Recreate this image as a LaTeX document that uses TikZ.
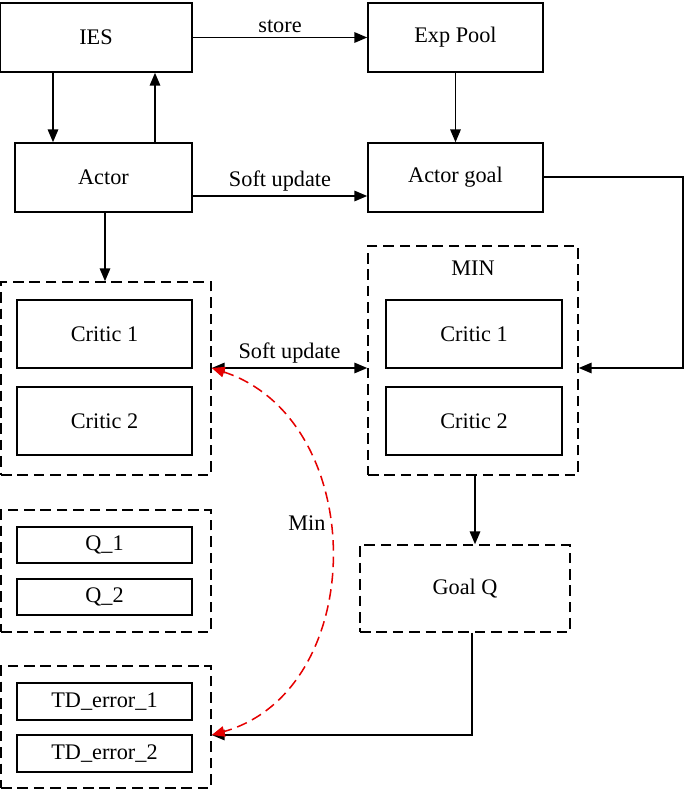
\documentclass[tikz,border=0pt]{standalone}
\usepackage{fontspec}
\setmainfont{Liberation Serif}
\usetikzlibrary{arrows.meta}
\begin{document}
\begin{tikzpicture}[x=0.03cm,y=-0.03cm,
  lab/.style={font=\fontsize{19}{22}\selectfont},
  box/.style={draw,line width=1.3pt,lab,inner sep=0pt},
  dbox/.style={draw,line width=1.3pt,dash pattern=on 9pt off 5pt,inner sep=0pt},
  arr/.style={line width=1.3pt,-{Triangle[length=11pt,width=9pt]}}]
\useasboundingbox (0,0) rectangle (685,790);
% solid boxes
\node[box,minimum width=5.76cm,minimum height=2.07cm] (ies) at (96,37.5) {IES};
\node[box,minimum width=5.25cm,minimum height=2.07cm] (exp) at (455.5,37.5) {Exp Pool};
\node[box,minimum width=5.31cm,minimum height=2.07cm] (actor) at (103.5,177.5) {Actor};
\node[box,minimum width=5.25cm,minimum height=2.07cm] (ag) at (455.5,177.5) {Actor goal};
% left critic group
\node[dbox,minimum width=6.3cm,minimum height=5.79cm] (lg) at (106,378.5) {};
\node[box,minimum width=5.25cm,minimum height=2.04cm] (lc1) at (104.5,334) {Critic 1};
\node[box,minimum width=5.25cm,minimum height=2.04cm] (lc2) at (104.5,421) {Critic 2};
% right MIN group
\node[dbox,minimum width=6.3cm,minimum height=6.87cm] (rg) at (473,360.5) {};
\node[lab] (minl) at (473,268) {MIN};
\node[box,minimum width=5.28cm,minimum height=2.04cm] (rc1) at (474,334) {Critic 1};
\node[box,minimum width=5.28cm,minimum height=2.04cm] (rc2) at (474,421) {Critic 2};
% goal Q
\node[dbox,lab,minimum width=6.3cm,minimum height=2.61cm] (gq) at (465,588.5) {Goal Q};
% Q group
\node[dbox,minimum width=6.3cm,minimum height=3.66cm] (qg) at (106,571) {};
\node[box,minimum width=5.25cm,minimum height=1.08cm] (q1) at (104.5,545) {Q\_1};
\node[box,minimum width=5.25cm,minimum height=1.08cm] (q2) at (104.5,597) {Q\_2};
% TD group
\node[dbox,minimum width=6.3cm,minimum height=3.66cm] (tg) at (106,727) {};
\node[box,minimum width=5.25cm,minimum height=1.11cm] (t1) at (104.5,701.5) {TD\_error\_1};
\node[box,minimum width=5.25cm,minimum height=1.11cm] (t2) at (104.5,753.5) {TD\_error\_2};
% connectors
\draw[arr] (ies) -- node[lab,above] {store} (exp);
\draw[arr] (ies.south -| 53,0) -- (actor.north -| 53,0);
\draw[arr] (actor.north -| 155,0) -- (ies.south -| 155,0);
\draw[arr] (exp) -- (ag);
\draw[arr] (actor.east |- 0,196) -- node[lab,above] {Soft update} (ag.west |- 0,196);
\draw[arr] (actor.south -| 105,0) -- (lg.north -| 105,0);
\coordinate (c1) at (683,177);
\coordinate (c2) at (683,368);
\draw[arr] (ag.east |- c1) -- (c1) -- (c2) -- (rg.east |- c2);
\draw[line width=1.3pt,{Triangle[length=11pt,width=9pt]}-{Triangle[length=11pt,width=9pt]}] (lg.east |- 0,368) -- node[lab,above] {Soft update} (rg.west |- 0,368);
\draw[arr] (rg.south -| 475,0) -- (gq.north -| 475,0);
\coordinate (c3) at (472,735);
\draw[arr] (gq.south -| c3) -- (c3) -- (tg.east |- c3);
\draw[red!90!black,line width=1.3pt,dash pattern=on 9pt off 5pt,{Triangle[length=11pt,width=9pt]}-{Triangle[length=11pt,width=9pt]}]
  (lg.east |- 0,368) .. controls (370,420) and (370,690) .. (tg.east |- 0,735);
\node[lab] (minlab) at (307,523) {Min};
\end{tikzpicture}
\end{document}
